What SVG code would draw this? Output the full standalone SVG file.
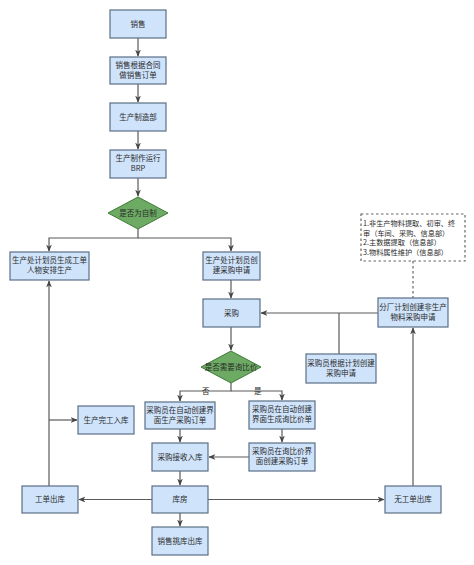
<svg xmlns="http://www.w3.org/2000/svg" width="474" height="565" viewBox="0 0 474 565">
<defs>
<style>
.b{fill:#cfe3fb;stroke:#5b6e86;stroke-width:1.2}
.d{fill:#6dab64;stroke:#3f7a38;stroke-width:1}
.t{font-family:"Noto Sans CJK SC","Liberation Sans",sans-serif;font-size:7.5px;fill:#2b2b2b;text-anchor:middle}
.n{font-family:"Noto Sans CJK SC","Liberation Sans",sans-serif;font-size:7.2px;fill:#2b2b2b}
.l{font-family:"Noto Sans CJK SC","Liberation Sans",sans-serif;font-size:7.5px;fill:#2b2b2b}
.c{fill:none;stroke:#5a5a5a;stroke-width:1.2}
.dash{fill:none;stroke:#666;stroke-width:1.2;stroke-dasharray:2.5 2.5}
</style>
<marker id="a" viewBox="0 0 10 10" refX="9" refY="5" markerWidth="6" markerHeight="6" orient="auto">
<path d="M0,1 L10,5 L0,9 L3,5 Z" fill="#444"/>
</marker>
</defs>
<rect width="474" height="565" fill="#ffffff"/>
<g id="connectors">
<path class="c" d="M138,38 V56" marker-end="url(#a)"/>
<path class="c" d="M138,84 V102" marker-end="url(#a)"/>
<path class="c" d="M138,131 V149" marker-end="url(#a)"/>
<path class="c" d="M138,178 V196" marker-end="url(#a)"/>
<path class="c" d="M138,229 V238 H49 V251" marker-end="url(#a)"/>
<path class="c" d="M138,238 H231 V251" marker-end="url(#a)"/>
<path class="c" d="M231,280 V298" marker-end="url(#a)"/>
<path class="c" d="M231,327 V350" marker-end="url(#a)"/>
<path class="c" d="M231,383 V391 H180 V401" marker-end="url(#a)"/>
<path class="c" d="M231,391 H282 V400" marker-end="url(#a)"/>
<path class="c" d="M180,429 V442" marker-end="url(#a)"/>
<path class="c" d="M282,429 V442" marker-end="url(#a)"/>
<path class="c" d="M249,457 H209" marker-end="url(#a)"/>
<path class="c" d="M180,471 V485" marker-end="url(#a)"/>
<path class="c" d="M180,513 V526" marker-end="url(#a)"/>
<path class="c" d="M152,499.5 H79" marker-end="url(#a)"/>
<path class="c" d="M208,499.5 H384" marker-end="url(#a)"/>
<path class="c" d="M49,486 V281" marker-end="url(#a)"/>
<path class="c" d="M49,420 H77" marker-end="url(#a)"/>
<path class="c" d="M413,486 V328" marker-end="url(#a)"/>
<path class="c" d="M378,313 H261" marker-end="url(#a)"/>
<path class="c" d="M339,354 V313"/>
<path class="dash" d="M413,261 V298"/>
<text class="l" x="202" y="394">否</text>
<text class="l" x="254" y="394">是</text>
</g>
<g id="n1"><rect class="b" x="110" y="10" width="56" height="28"/><text class="t" x="138" y="26.5">销售</text></g>
<g id="n2"><rect class="b" x="110" y="57" width="56" height="27"/><text class="t" x="138" y="68">销售根据合同</text><text class="t" x="138" y="78">做销售订单</text></g>
<g id="n3"><rect class="b" x="110" y="103" width="56" height="28"/><text class="t" x="138" y="119.5">生产制造部</text></g>
<g id="n4"><rect class="b" x="110" y="150" width="56" height="28"/><text class="t" x="138" y="161">生产制作运行</text><text class="t" x="138" y="171">BRP</text></g>
<g id="n5"><polygon class="d" points="138,197 168,213 138,229 108,213"/><text class="t" x="138" y="216">是否为自制</text></g>
<g id="n6"><rect class="b" x="10" y="252" width="79" height="28"/><text class="t" x="49.5" y="263">生产处计划员生成工单</text><text class="t" x="49.5" y="273">人物安排生产</text></g>
<g id="n7"><rect class="b" x="203" y="252" width="57" height="28"/><text class="t" x="231.5" y="263">生产处计划员创</text><text class="t" x="231.5" y="273">建采购申请</text></g>
<g id="n8"><rect class="b" x="203" y="299" width="57" height="28"/><text class="t" x="231.5" y="315.5">采购</text></g>
<g id="n9"><polygon class="d" points="231,351 261,367 231,383 201,367"/><text class="t" x="231" y="370">是否需要询比价</text></g>
<g id="n10"><rect class="b" x="145" y="402" width="70" height="27"/><text class="t" x="180" y="413">采购员在自动创建界</text><text class="t" x="180" y="423">面生产采购订单</text></g>
<g id="n11"><rect class="b" x="249" y="401" width="66" height="28"/><text class="t" x="282" y="412">采购员在自动创建</text><text class="t" x="282" y="422">界面生成询比价单</text></g>
<g id="n12"><rect class="b" x="249" y="443" width="66" height="28"/><text class="t" x="282" y="454">采购员在询比价界</text><text class="t" x="282" y="464">面创建采购订单</text></g>
<g id="n13"><rect class="b" x="152" y="443" width="56" height="28"/><text class="t" x="180" y="459.5">采购接收入库</text></g>
<g id="n14"><rect class="b" x="152" y="486" width="56" height="27"/><text class="t" x="180" y="502">库房</text></g>
<g id="n15"><rect class="b" x="152" y="527" width="56" height="28"/><text class="t" x="180" y="543.5">销售挑库出库</text></g>
<g id="n16"><rect class="b" x="22" y="486" width="56" height="27"/><text class="t" x="50" y="502">工单出库</text></g>
<g id="n17"><rect class="b" x="78" y="406" width="56" height="28"/><text class="t" x="106" y="422.5">生产完工入库</text></g>
<g id="n18"><rect class="b" x="385" y="486" width="56" height="27"/><text class="t" x="413" y="502">无工单出库</text></g>
<g id="n19"><rect class="b" x="378" y="298" width="70" height="29"/><text class="t" x="413" y="309.5">分厂计划创建非生产</text><text class="t" x="413" y="319.5">物料采购申请</text></g>
<g id="n20"><rect class="b" x="306" y="354" width="70" height="29"/><text class="t" x="341" y="365.5">采购员根据计划创建</text><text class="t" x="341" y="375.5">采购申请</text></g>
<g id="n21"><rect class="dash" x="361" y="214" width="104" height="47"/>
<text class="n" x="363" y="226">1.非生产物料提取、初审、终</text>
<text class="n" x="363" y="235.5">审（车间、采购、信息部）</text>
<text class="n" x="363" y="245">2.主数据提取（信息部）</text>
<text class="n" x="363" y="254.5">3.物料属性维护（信息部）</text>
</g>
</svg>
